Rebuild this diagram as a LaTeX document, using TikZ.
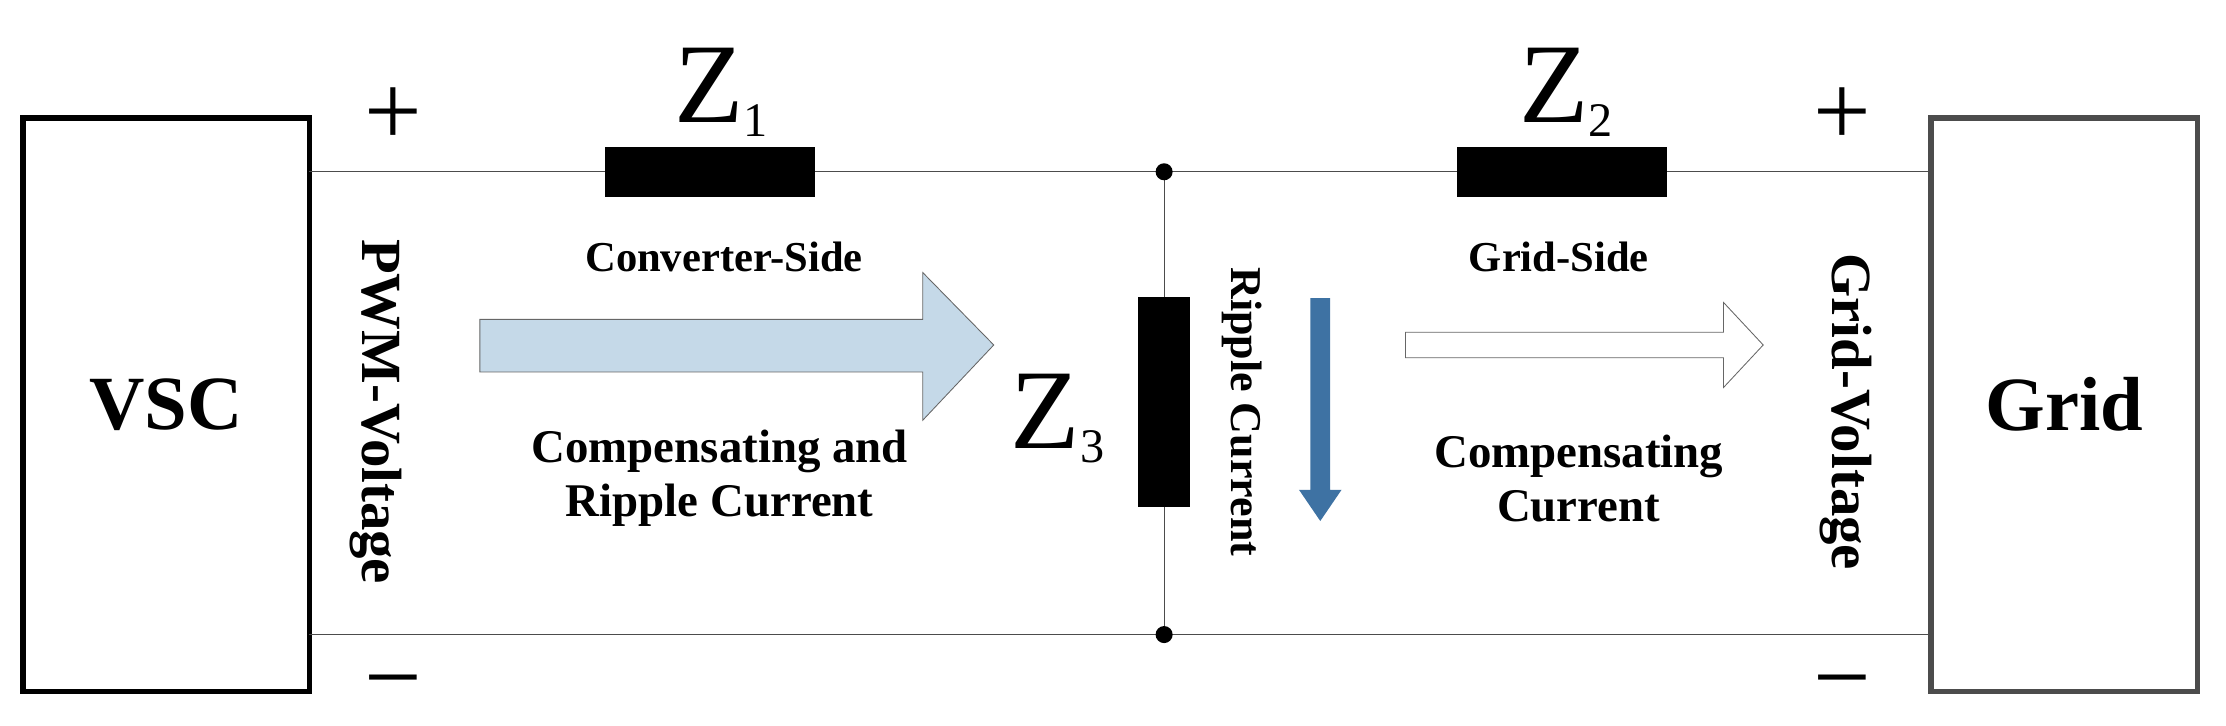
\documentclass[tikz,border=0pt]{standalone}
\usepackage{fontspec}
\setmainfont{Liberation Serif}
\begin{document}
\begin{tikzpicture}[x=1pt,y=-1pt,
 wire/.style={line width=0.8pt,black!70},
 imp/.style={fill=black,draw=black},
 lbl/.style={font=\fontsize{33}{38}\selectfont\bfseries,align=center},
 zl/.style={font=\fontsize{80}{80}\selectfont,inner sep=0},
 pm/.style={font=\fontsize{72}{72}\selectfont,inner sep=0},
 big/.style={font=\fontsize{54}{54}\selectfont\bfseries}]
\useasboundingbox (0,0) rectangle (1568,511);
\node[draw=black,line width=4pt,minimum width=202,minimum height=404,inner sep=0,big] (vsc) at (117,285) {VSC};
\node[draw=black!70,line width=4pt,minimum width=188,minimum height=404,inner sep=0,big] (grid) at (1454,285) {Grid};
\coordinate (t1) at (218,121); \coordinate (t2) at (1360,121);
\coordinate (b1) at (218,447); \coordinate (b2) at (1360,447);
\coordinate (jt) at (820,121); \coordinate (jb) at (820,447);
\draw[wire] (t1) -- (t2); \draw[wire] (b1) -- (b2); \draw[wire] (jt) -- (jb);
\fill (jt) circle (6); \fill (jb) circle (6);
\node[imp,minimum width=147,minimum height=34,inner sep=0] (z1) at (500,121) {};
\node[imp,minimum width=147,minimum height=34,inner sep=0] (z2) at (1100,121) {};
\node[imp,minimum width=36,minimum height=147,inner sep=0] (z3) at (820,283) {};
\node[zl] (lz1) at (508,65) {Z\raisebox{-0.12em}{\fontsize{34}{34}\selectfont 1}};
\node[zl] (lz2) at (1103,65) {Z\raisebox{-0.12em}{\fontsize{34}{34}\selectfont 2}};
\node[zl] (lz3) at (745,295) {Z\raisebox{-0.12em}{\fontsize{34}{34}\selectfont 3}};
\node[pm] (p1) at (277,82) {+}; \node[pm] (m1) at (277,488) {\textminus};
\node[pm] (p2) at (1298,82) {+}; \node[pm] (m2) at (1298,488) {\textminus};
\node[lbl,font=\fontsize{30}{34}\selectfont\bfseries] (cs) at (510,181) {Converter-Side};
\node[lbl,font=\fontsize{30}{34}\selectfont\bfseries] (gs) at (1098,181) {Grid-Side};
\node[lbl,rotate=-90,font=\fontsize{40}{40}\selectfont\bfseries] (pwm) at (265,290) {PWM-Voltage};
\node[lbl,rotate=-90,font=\fontsize{40}{40}\selectfont\bfseries] (gv) at (1300,290) {Grid-Voltage};
\node[lbl,rotate=-90,font=\fontsize{31}{31}\selectfont\bfseries] (rc) at (875,290) {Ripple Current};
\node[lbl] (cr) at (507,337) {Compensating and\\Ripple Current};
\node[lbl] (cc) at (1112,337) {Compensating\\Current};
\draw[black!60,fill={rgb,255:red,197;green,217;blue,232},line width=0.6pt] (338,225) -- (650,225) -- (650,192) -- (700,243) -- (650,296) -- (650,262) -- (338,262) -- cycle;
\draw[black!60,fill=white,line width=0.6pt] (990,234) -- (1214,234) -- (1214,213) -- (1242,243) -- (1214,273) -- (1214,252) -- (990,252) -- cycle;
\fill[fill={rgb,255:red,62;green,114;blue,163}] (923,210) -- (937,210) -- (937,345) -- (945,345) -- (930,367) -- (915,345) -- (923,345) -- cycle;
\end{tikzpicture}
\end{document}
